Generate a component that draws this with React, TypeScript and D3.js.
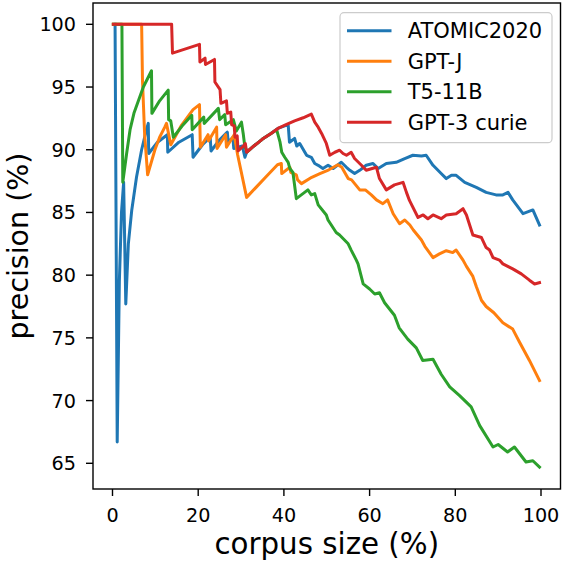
import React from "react";
import * as d3 from "d3";

// series values: [corpus size %, precision %]
const atomicData: [number, number][] = [
  [0.6, 100], [1.1, 66.7], [1.6, 79.5], [2.1, 85], [2.6, 87.4], [3.1, 77.7], [3.7, 82.5], [4.5, 85.2],
  [5.6, 87.8], [6.8, 90.0], [8.0, 91.7], [8.35, 92.1], [8.45, 89.7], [10.5, 90.6], [12.8, 91.2], [12.9, 89.8],
  [15.5, 90.6], [18.6, 91.2], [18.8, 89.4], [21, 90.4], [22.8, 91.0], [23.0, 89.9], [25, 90.8], [26.8, 91.4],
  [27.0, 90.6], [28.1, 91.0], [28.3, 90.1], [30.3, 90.3], [30.9, 89.4], [31.3, 89.8], [33, 90.3], [35, 90.85],
  [37, 91.3], [38.6, 91.7], [41.0, 92.0], [41.3, 90.6], [42.5, 90.9], [43.0, 90.3], [43.7, 90.5], [45.3, 89.56],
  [46.4, 89.4], [47.2, 88.9], [48.0, 88.76], [49.1, 88.5], [50.3, 88.76], [51.5, 88.5], [53.4, 89.0], [54.6, 88.6],
  [55.4, 88.36], [56.5, 88.1], [57.7, 88.36], [59.2, 88.76], [60.8, 88.9], [62.0, 88.5], [63.9, 88.9], [66.2, 89.0],
  [68.2, 89.3], [70.1, 89.56], [72.1, 89.5], [73.2, 89.56], [74.8, 88.76], [76.7, 88.1], [77.9, 87.7], [79.1, 87.96],
  [80.2, 87.96], [82.2, 87.4], [84.9, 87.0], [87.2, 86.6], [89.5, 86.4], [91.1, 86.4], [92.3, 86.6], [93.4, 86.0],
  [95.8, 84.9], [98.1, 85.2], [99.65, 84.0],
];

const gptjData: [number, number][] = [
  [0.2, 100], [6.8, 100], [7.0, 95.5], [7.5, 91.2], [8.2, 88.0], [9.9, 90.0], [11, 91.0], [12.2, 91.8],
  [12.6, 92.1], [13.6, 90.4], [16, 91.9], [18.8, 93.2], [20.3, 93.6], [20.5, 90.2], [22.3, 91.2], [22.4, 90.7],
  [24.3, 91.8], [24.4, 90.1], [26.4, 91.2], [26.6, 90.2], [28.4, 91.2], [29.2, 89.6], [31.3, 86.2], [33.5, 87.0],
  [36, 87.9], [38.5, 88.8], [39.4, 88.9], [39.5, 88.1], [41.4, 88.6], [41.6, 88.2], [42.9, 88.0], [43.2, 87.6],
  [44.1, 87.3], [46.5, 87.8], [48.4, 88.1], [50.5, 88.4], [52.6, 88.8], [53.5, 88.6], [55.0, 87.7], [55.8, 87.6],
  [57.7, 86.8], [59.0, 86.8], [60.4, 86.4], [61.6, 86.0], [63.1, 85.7], [64.2, 86.0], [65.5, 84.9], [67.0, 84.1],
  [68.2, 84.4], [69.4, 84.0], [70.2, 83.6], [72.1, 82.8], [72.9, 82.3], [74.8, 81.4], [76.3, 81.7], [77.9, 81.95],
  [79.4, 81.8], [80.2, 82.0], [81.8, 81.2], [82.6, 80.7], [84.1, 79.9], [84.9, 79.1], [86.1, 78.0], [87.2, 77.5],
  [89, 77.0], [91.1, 76.2], [93.4, 75.7], [95.0, 74.65], [97.3, 73.2], [99.65, 71.6],
];

const t5Data: [number, number][] = [
  [0.2, 100], [2.2, 100], [2.4, 87.4], [3.3, 89.7], [4.1, 91.6], [5.0, 92.9], [7.2, 95.0], [9.1, 96.3],
  [9.2, 92.9], [11, 93.9], [13.0, 94.75], [13.1, 92.4], [13.6, 92.3], [14.2, 91.0], [16.5, 92.0], [18.5, 92.75],
  [18.6, 91.6], [21.3, 92.6], [21.4, 92.1], [24.7, 93.3], [25.0, 92.4], [26.2, 92.8], [26.4, 92.0], [28.2, 92.4],
  [28.9, 91.5], [30.1, 92.2], [30.5, 91.3], [30.9, 90.2], [31.5, 89.85], [33, 90.3], [35, 90.85], [37, 91.3],
  [38.3, 91.6], [39.1, 90.6], [39.5, 89.8], [40.2, 89.4], [41.0, 89.0], [41.4, 88.5], [42.1, 88.2], [42.9, 86.1],
  [45.6, 86.8], [46.4, 86.4], [47.2, 86.5], [48.0, 85.6], [49.9, 84.8], [50.3, 84.4], [52.2, 83.4], [53.0, 83.2],
  [55.0, 82.5], [55.7, 82.0], [56.9, 81.2], [57.3, 80.9], [58.5, 79.3], [60.0, 78.9], [61.2, 78.5], [62.3, 78.6],
  [63.5, 77.8], [65.8, 76.8], [66.9, 75.8], [68.9, 74.9], [70.9, 74.2], [72.4, 73.2], [74.8, 73.3], [76.7, 72.1],
  [78.7, 71.1], [81.0, 70.4], [83.7, 69.5], [85.7, 68.0], [88.8, 66.3], [90.0, 66.5], [92.2, 65.9], [93.8, 66.3],
  [96.5, 65.1], [98.1, 65.2], [99.65, 64.7],
];

const curieData: [number, number][] = [
  [0.2, 100], [13.8, 100], [14.0, 97.7], [20.3, 98.4], [20.4, 97.0], [21.6, 97.3], [21.7, 96.8], [23.8, 97.2],
  [23.9, 95.4], [25.1, 94.8], [25.3, 93.7], [26.6, 93.9], [26.8, 92.9], [27.6, 93.0], [27.8, 92.0], [28.4, 91.9],
  [28.6, 91.0], [29.1, 91.1], [29.3, 89.9], [30.6, 90.3], [31.0, 90.5], [31.3, 89.8], [33, 90.3], [35, 90.85],
  [37, 91.3], [38.6, 91.7], [40.5, 92.0], [42.5, 92.3], [44.5, 92.55], [46.4, 92.84], [47.2, 92.2], [48.0, 91.8],
  [48.8, 91.3], [49.9, 90.5], [50.7, 89.56], [51.9, 89.8], [53.0, 89.96], [53.8, 89.7], [54.6, 89.56], [55.7, 89.8],
  [56.5, 89.3], [58.1, 88.76], [59.2, 88.36], [61.6, 88.6], [62.3, 87.7], [63.9, 86.8], [65.8, 87.2], [67.8, 87.4],
  [68.6, 86.6], [69.3, 85.96], [71.3, 84.6], [72.5, 84.8], [73.6, 84.5], [74.8, 84.8], [76.7, 84.5], [77.9, 84.8],
  [80.2, 84.9], [81.8, 85.3], [82.6, 84.8], [84.1, 83.2], [86.1, 83.0], [87.2, 82.2], [88.0, 82.0], [88.8, 81.4],
  [90.3, 81.2], [91.1, 80.9], [93.4, 80.5], [95.4, 80.1], [97.3, 79.6], [98.5, 79.3], [99.65, 79.4],
];

const seriesNames = ["ATOMIC2020", "GPT-J", "T5-11B", "GPT-3 curie"];
const seriesColors = ["#1f77b4", "#ff7f0e", "#2ca02c", "#d62728"];
const xTicks = [0, 20, 40, 60, 80, 100];
const yTicks = [65, 70, 75, 80, 85, 90, 95, 100];

const W = 564;
const H = 563;
const FONT = "DejaVu Sans";

const App: React.FC = () => {
  const left = 93, right = 560.5, top = 3, bottom = 489;

  const x = d3.scaleLinear().domain([-4.55, 104.55]).range([left, right]);
  const y = d3.scaleLinear().domain([62.95, 101.7]).range([bottom, top]);

  const line = d3
    .line<[number, number]>()
    .x((d) => x(d[0]))
    .y((d) => y(d[1]));

  const allSeries = [atomicData, gptjData, t5Data, curieData];
  const legendY = [30.7, 61.2, 91.7, 122.2];

  return (
    <svg width={W} height={H} style={{ position: "absolute", left: 0, top: 0, background: "#fff" }} fontFamily={FONT}>
      <rect x={0} y={0} width={W} height={H} fill="#fff" />
      <clipPath id="plot">
        <rect x={left} y={top} width={right - left} height={bottom - top} />
      </clipPath>

      {/* lines */}
      <g clipPath="url(#plot)">
        {allSeries.map((s, i) => (
          <path
            key={seriesNames[i]}
            d={line(s) || ""}
            fill="none"
            stroke={seriesColors[i]}
            strokeWidth={3}
            strokeLinejoin="round"
            strokeLinecap="square"
          />
        ))}
      </g>

      {/* frame */}
      <rect x={left} y={top} width={right - left} height={bottom - top} fill="none" stroke="#000" strokeWidth={1.4} />

      {/* x axis */}
      {xTicks.map((t) => (
        <g key={"x" + t}>
          <line x1={x(t)} x2={x(t)} y1={bottom} y2={bottom + 7} stroke="#000" strokeWidth={1.4} />
          <text x={x(t)} y={522} textAnchor="middle" fontSize={19.2} fill="#000">
            {t}
          </text>
        </g>
      ))}

      {/* y axis */}
      {yTicks.map((t) => (
        <g key={"y" + t}>
          <line x1={left - 7} x2={left} y1={y(t)} y2={y(t)} stroke="#000" strokeWidth={1.4} />
          <text x={76} y={y(t) + 7} textAnchor="end" fontSize={19.2} fill="#000">
            {t}
          </text>
        </g>
      ))}

      {/* axis labels */}
      <text x={(left + right) / 2} y={554} textAnchor="middle" fontSize={29.3} fill="#000">
        corpus size (%)
      </text>
      <text
        transform={`translate(27.5,${(top + bottom) / 2}) rotate(-90)`}
        textAnchor="middle"
        fontSize={28.5}
        fill="#000"
      >
        precision (%)
      </text>

      {/* legend */}
      <rect x={340} y={12.7} width={212} height={130} rx={4} fill="#fff" fillOpacity={0.8} stroke="#cccccc" strokeWidth={1.2} />
      {seriesNames.map((n, i) => (
        <g key={"leg" + n}>
          <line x1={347} x2={391.5} y1={legendY[i]} y2={legendY[i]} stroke={seriesColors[i]} strokeWidth={3} />
          <text x={407.7} y={legendY[i] + 7.6} fontSize={21} fill="#000">
            {n}
          </text>
        </g>
      ))}
    </svg>
  );
};

export default App;
